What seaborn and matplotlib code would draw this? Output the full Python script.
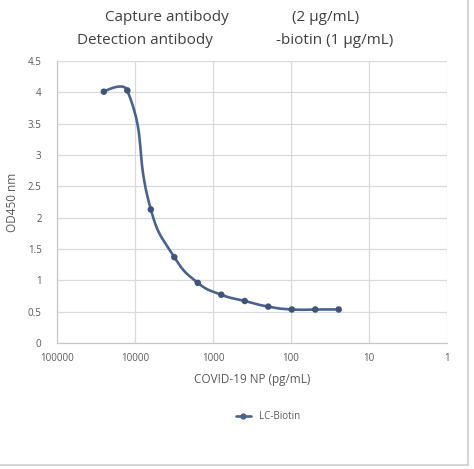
import numpy as np
import matplotlib
matplotlib.use("Agg")
import matplotlib.pyplot as plt
import seaborn as sns
from matplotlib.lines import Line2D

# Dados (diluição seriada 1:2)
conc_pg_ml = [25000, 12500, 6250, 3125, 1562.5, 781.25, 390.6, 195.3, 97.7, 48.8, 24.4]
od450 = [4.01, 4.03, 2.13, 1.37, 0.96, 0.77, 0.67, 0.58, 0.535, 0.535, 0.535]
serie = "LC-Biotin"

x_ticks = [100000, 10000, 1000, 100, 10, 1]
x_tick_labels = ["100000", "10000", "1000", "100", "10", "1"]
y_ticks = [0, 0.5, 1, 1.5, 2, 2.5, 3, 3.5, 4, 4.5]
y_tick_labels = ["0", "0.5", "1", "1.5", "2", "2.5", "3", "3.5", "4", "4.5"]

cor_linha = "#4a6291"
cor_texto = "#595959"


def curva_suave(x, y, n=30, tensao=0.5, esc_x=78.0, esc_y=62.9):
    # Bezier suavizada (estilo Excel), calculada em coordenadas de tela aproximadas
    pts = np.column_stack([np.log10(np.array(x, dtype=float)) * esc_x,
                           np.array(y, dtype=float) * esc_y])
    m = len(pts)
    t = np.linspace(0, 1, n)[:, None]
    saida = []
    for i in range(m - 1):
        p0 = pts[max(i - 1, 0)]
        p1 = pts[i]
        p2 = pts[i + 1]
        p3 = pts[min(i + 2, m - 1)]
        d01 = np.linalg.norm(p1 - p0)
        d12 = np.linalg.norm(p2 - p1)
        d23 = np.linalg.norm(p3 - p2)
        f1 = tensao * d12 / (d01 + d12) if d01 > 0 else 0.0
        f2 = tensao * d12 / (d12 + d23) if d23 > 0 else 0.0
        c1 = p1 + f1 * (p2 - p0)
        c2 = p2 - f2 * (p3 - p1)
        b = (1 - t) ** 3 * p1 + 3 * (1 - t) ** 2 * t * c1 + 3 * (1 - t) * t ** 2 * c2 + t ** 3 * p2
        saida.append(b)
    saida = np.vstack(saida)
    return 10 ** (saida[:, 0] / esc_x), saida[:, 1] / esc_y


sns.set_style("white")
plt.rcParams['font.family'] = ['Open Sans', 'DejaVu Sans']

fig = plt.figure(figsize=(4.74, 4.69), dpi=100)
ax = fig.add_axes([0.120, 0.2687, 0.823, 0.6013])

sx, sy = curva_suave(conc_pg_ml, od450)
sns.lineplot(x=sx, y=sy, ax=ax, color=cor_linha, linewidth=1.9, sort=False, estimator=None)
sns.scatterplot(x=conc_pg_ml, y=od450, ax=ax, color="#3f5478", s=22, edgecolor="none", zorder=3)

ax.set_xscale("log")
ax.set_xlim(100000, 1)
ax.set_ylim(0, 4.5)
ax.set_xticks(x_ticks)
ax.set_xticklabels(x_tick_labels)
ax.set_yticks(y_ticks)
ax.set_yticklabels(y_tick_labels)
ax.minorticks_off()
ax.tick_params(axis="both", labelsize=7, labelcolor=cor_texto, colors="#d0d0d0")
ax.tick_params(axis="y", length=7, width=0.8, pad=4)
ax.tick_params(axis="x", length=0, pad=7)
ax.grid(True, color="#d9d9d9", linewidth=0.9)
for lado in ["top", "right"]:
    ax.spines[lado].set_visible(False)
for lado in ["left", "bottom"]:
    ax.spines[lado].set_color("#c8c8c8")
    ax.spines[lado].set_linewidth(0.9)

ax.set_xlabel("COVID-19 NP (pg/mL)", fontsize=8.5, color=cor_texto, labelpad=7)
ax.set_ylabel("OD450 nm", fontsize=8.5, color=cor_texto, labelpad=6)

# título em duas linhas (como no Excel)
fig.text(0.353, 0.962, "Capture antibody", fontsize=11, ha="center", va="center", color="#404040")
fig.text(0.687, 0.962, "(2 µg/mL)", fontsize=11, ha="center", va="center", color="#404040")
fig.text(0.305, 0.914, "Detection antibody", fontsize=11, ha="center", va="center", color="#404040")
fig.text(0.705, 0.914, "-biotin (1 µg/mL)", fontsize=11, ha="center", va="center", color="#404040")

# legenda
h = [Line2D([0], [0], color=cor_linha, linewidth=1.9, marker="o", markersize=3.5)]
fig.legend(h, [serie], loc="center", bbox_to_anchor=(0.565, 0.111), frameon=False,
           fontsize=7, labelcolor=cor_texto, handlelength=1.6, handletextpad=0.8)

# moldura da imagem
fig.add_artist(Line2D([0.987, 0.987], [0.009, 1.0], color="#d6d6d6", linewidth=1.5))
fig.add_artist(Line2D([0.0, 0.987], [0.009, 0.009], color="#d6d6d6", linewidth=1.5))

fig.savefig("out.png", dpi=100)
